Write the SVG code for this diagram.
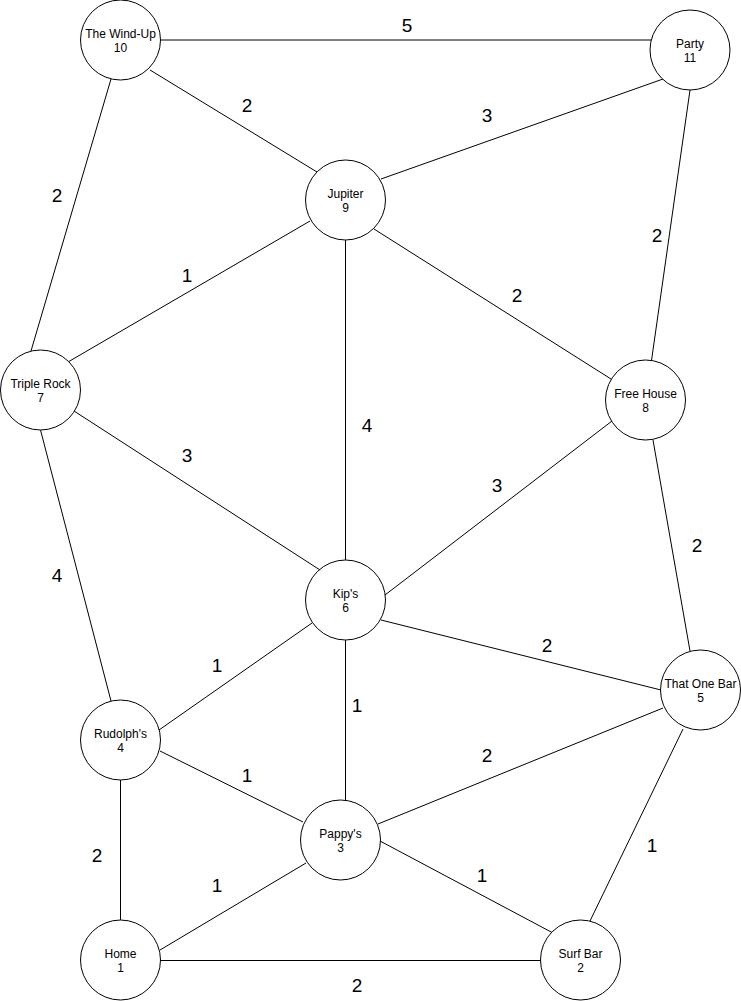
<svg xmlns="http://www.w3.org/2000/svg" width="741" height="1001" viewBox="0 0 741 1001">
<style>
.n circle{fill:#fff;stroke:#000;stroke-width:1}
.n text{font-family:"Liberation Sans",Arial,sans-serif;font-size:12px;fill:#000;text-anchor:middle}
#edges line{stroke:#000;stroke-width:1}
#edges text{font-family:"Liberation Sans",Arial,sans-serif;font-size:19px;fill:#000;text-anchor:middle}
</style>
<rect width="741" height="1001" fill="#fff"/>
<g id="edges">
<line x1="160" y1="40" x2="651" y2="40"/>
<line x1="150" y1="70" x2="317" y2="172"/>
<line x1="663" y1="79" x2="381" y2="179"/>
<line x1="111" y1="79" x2="31" y2="351"/>
<line x1="310" y1="221" x2="68" y2="362"/>
<line x1="374" y1="229" x2="611" y2="379"/>
<line x1="690" y1="90" x2="651.5" y2="360.5"/>
<line x1="345.5" y1="240" x2="345.5" y2="560"/>
<line x1="74" y1="411" x2="320" y2="570"/>
<line x1="612" y1="421" x2="385" y2="595"/>
<line x1="653" y1="440" x2="690" y2="651"/>
<line x1="40.5" y1="430" x2="111" y2="701"/>
<line x1="381" y1="620" x2="661" y2="690"/>
<line x1="312" y1="623" x2="159" y2="730"/>
<line x1="345.5" y1="640" x2="345.5" y2="800"/>
<line x1="160" y1="751" x2="303" y2="822"/>
<line x1="378" y1="824" x2="663" y2="708"/>
<line x1="120.5" y1="780" x2="120.5" y2="920"/>
<line x1="160" y1="950" x2="306" y2="863"/>
<line x1="380" y1="841" x2="553" y2="933"/>
<line x1="683" y1="729" x2="590" y2="921"/>
<line x1="160" y1="960.5" x2="541" y2="960.5"/>
<text x="407" y="32">5</text>
<text x="247" y="112">2</text>
<text x="487" y="122">3</text>
<text x="57" y="202">2</text>
<text x="187" y="282">1</text>
<text x="517" y="302">2</text>
<text x="657" y="242">2</text>
<text x="367" y="432">4</text>
<text x="187" y="462">3</text>
<text x="497" y="492">3</text>
<text x="697" y="552">2</text>
<text x="57" y="582">4</text>
<text x="547" y="652">2</text>
<text x="217" y="672">1</text>
<text x="357" y="712">1</text>
<text x="247" y="782">1</text>
<text x="487" y="762">2</text>
<text x="97" y="862">2</text>
<text x="217" y="892">1</text>
<text x="482" y="882">1</text>
<text x="652" y="852">1</text>
<text x="357" y="992">2</text>
</g>
<g id="windup" class="n"><circle cx="120.5" cy="40" r="40"/><text x="120.5" y="38">The Wind-Up</text><text x="120.5" y="52">10</text></g>
<g id="party" class="n"><circle cx="690" cy="50" r="40"/><text x="690" y="48">Party</text><text x="690" y="62">11</text></g>
<g id="jupiter" class="n"><circle cx="345.5" cy="200" r="40"/><text x="345.5" y="198">Jupiter</text><text x="345.5" y="212">9</text></g>
<g id="triplerock" class="n"><circle cx="40.5" cy="390" r="40"/><text x="40.5" y="388">Triple Rock</text><text x="40.5" y="402">7</text></g>
<g id="freehouse" class="n"><circle cx="645.5" cy="400" r="40"/><text x="645.5" y="398">Free House</text><text x="645.5" y="412">8</text></g>
<g id="kips" class="n"><circle cx="345.5" cy="600" r="40"/><text x="345.5" y="598">Kip's</text><text x="345.5" y="612">6</text></g>
<g id="thatonebar" class="n"><circle cx="700.5" cy="690" r="40"/><text x="700.5" y="688">That One Bar</text><text x="700.5" y="702">5</text></g>
<g id="rudolphs" class="n"><circle cx="120.5" cy="740" r="40"/><text x="120.5" y="738">Rudolph's</text><text x="120.5" y="752">4</text></g>
<g id="pappys" class="n"><circle cx="340.5" cy="840" r="40"/><text x="340.5" y="838">Pappy's</text><text x="340.5" y="852">3</text></g>
<g id="home" class="n"><circle cx="120.5" cy="960" r="40"/><text x="120.5" y="958">Home</text><text x="120.5" y="972">1</text></g>
<g id="surfbar" class="n"><circle cx="580.5" cy="960" r="40"/><text x="580.5" y="958">Surf Bar</text><text x="580.5" y="972">2</text></g>
</svg>
